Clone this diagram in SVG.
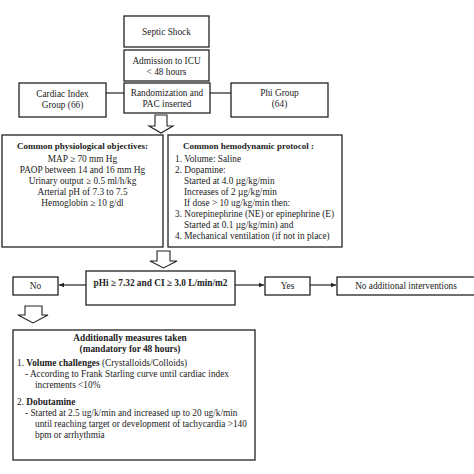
<svg xmlns="http://www.w3.org/2000/svg" width="474" height="474" viewBox="0 0 474 474">
<defs>
<style>
.b{fill:#fff;stroke:#222;stroke-width:1.3}
.t{font-family:"Liberation Serif","Times New Roman",serif;font-size:9.3px;fill:#222}
.c{text-anchor:middle}
.bd{font-weight:bold}
.ln{stroke:#222;stroke-width:1.2;fill:none}
.ha{fill:#fff;stroke:#222;stroke-width:1.1}
</style>
<marker id="ah" markerWidth="6" markerHeight="6" refX="5" refY="3" orient="auto" markerUnits="userSpaceOnUse">
<path d="M0,0.8 L5,3 L0,5.2 Z" fill="#222"/>
</marker>
</defs>
<rect width="474" height="474" fill="#fff"/>
<g id="connectors">
<line class="ln" x1="106" y1="93" x2="124" y2="93"/>
<line class="ln" x1="210" y1="93" x2="231" y2="93"/>
<line class="ln" x1="86" y1="285" x2="59" y2="285" marker-end="url(#ah)"/>
<line class="ln" x1="235" y1="285" x2="264" y2="285" marker-end="url(#ah)"/>
<line class="ln" x1="310" y1="285" x2="336" y2="285" marker-end="url(#ah)"/>
<polygon class="ha" points="155,115 167,115 167,126 173,126 161,133 149,126 155,126"/>
<polygon class="ha" points="157,251 170,251 170,261 177,261 163.5,268 150,261 157,261"/>
<polygon class="ha" points="25,306 42,306 42,315 48,315 33,323 18,315 25,315"/>
</g>
<g id="septic">
<rect class="b" x="124" y="16" width="85" height="31"/>
<text class="t c" x="166.5" y="35">Septic Shock</text>
</g>
<g id="admission">
<rect class="b" x="124" y="50" width="85" height="31"/>
<text class="t c" x="166.5" y="64">Admission to ICU</text>
<text class="t c" x="166.5" y="75">&lt; 48 hours</text>
</g>
<g id="random">
<rect class="b" x="124" y="83" width="86" height="30"/>
<text class="t c" x="167" y="96">Randomization and</text>
<text class="t c" x="167" y="107">PAC inserted</text>
</g>
<g id="cardiac">
<rect class="b" x="19" y="83" width="87" height="34"/>
<text class="t c" x="62.5" y="97">Cardiac Index</text>
<text class="t c" x="62.5" y="108">Group (66)</text>
</g>
<g id="phi">
<rect class="b" x="231" y="83" width="97" height="34"/>
<text class="t c" x="279.5" y="96">Phi Group</text>
<text class="t c" x="279.5" y="107">(64)</text>
</g>
<g id="objectives">
<rect class="b" x="2" y="135" width="161" height="112"/>
<text class="t c bd" x="82.5" y="149" style="font-size:9px">Common physiological objectives:</text>
<text class="t c" x="82.5" y="162">MAP ≥ 70 mm Hg</text>
<text class="t c" x="82.5" y="173">PAOP between 14 and 16 mm Hg</text>
<text class="t c" x="82.5" y="184">Urinary output ≥ 0.5 ml/h/kg</text>
<text class="t c" x="82.5" y="195">Arterial pH of 7.3 to 7.5</text>
<text class="t c" x="82.5" y="206">Hemoglobin ≥ 10 g/dl</text>
</g>
<g id="protocol">
<rect class="b" x="168" y="135" width="174" height="112"/>
<text class="t bd" x="183" y="149" style="font-size:9px">Common hemodynamic protocol :</text>
<text class="t" x="175" y="162">1. Volume:  Saline</text>
<text class="t" x="175" y="173">2. Dopamine:</text>
<text class="t" x="184" y="184">Started at 4.0 µg/kg/min</text>
<text class="t" x="184" y="195">Increases of 2 µg/kg/min</text>
<text class="t" x="184" y="206">If dose &gt; 10 ug/kg/min then:</text>
<text class="t" x="175" y="217">3. Norepinephrine (NE) or epinephrine (E)</text>
<text class="t" x="184" y="228">Started at 0.1  µg/kg/min) and</text>
<text class="t" x="175" y="239">4. Mechanical ventilation (if not in place)</text>
</g>
<g id="phi-ci">
<rect class="b" x="86" y="271" width="149" height="34"/>
<text class="t c bd" x="160.5" y="286">pHi ≥ 7.32 and CI ≥ 3.0 L/min/m2</text>
</g>
<g id="no">
<rect class="b" x="13" y="277" width="45" height="18"/>
<text class="t c" x="35.5" y="289">No</text>
</g>
<g id="yes">
<rect class="b" x="265" y="277" width="45" height="18"/>
<text class="t c" x="287.5" y="289">Yes</text>
</g>
<g id="noadd">
<rect class="b" x="337" y="277" width="140" height="18"/>
<text class="t c" x="406" y="289">No additional interventions</text>
</g>
<g id="additional">
<rect class="b" x="13" y="330" width="242" height="130"/>
<text class="t c bd" x="130" y="341">Additionally measures taken</text>
<text class="t c bd" x="130" y="352">(mandatory for 48 hours)</text>
<text class="t" x="17" y="366">1. <tspan class="bd">Volume challenges</tspan> (Crystalloids/Colloids)</text>
<text class="t" x="25" y="377">- According to Frank Starling curve until cardiac index</text>
<text class="t" x="35" y="388">increments &lt;10%</text>
<text class="t" x="17" y="405">2. <tspan class="bd">Dobutamine</tspan></text>
<text class="t" x="25" y="416">- Started at 2.5 ug/k/min and increased up to 20 ug/k/min</text>
<text class="t" x="35" y="427">until reaching target or development of tachycardia &gt;140</text>
<text class="t" x="35" y="438">bpm or arrhythmia</text>
</g>
</svg>
